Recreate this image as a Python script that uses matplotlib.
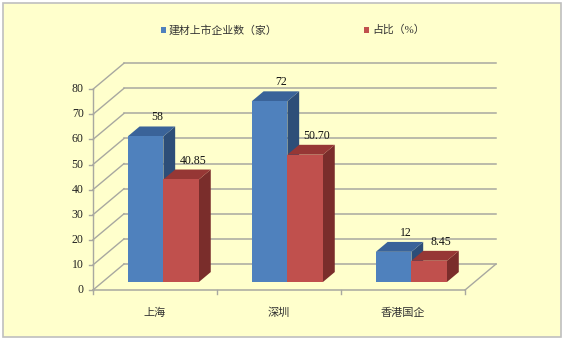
import matplotlib
matplotlib.use('Agg')
import matplotlib.pyplot as plt
from matplotlib.patches import Polygon, Rectangle

plt.rcParams['font.family'] = ['Liberation Serif', 'Noto Sans CJK SC']

# 数据
categories = ['上海', '深圳', '香港国企']
series_names = ['建材上市企业数（家）', '占比（%）']
counts = [58, 72, 12]
shares = [40.85, 50.70, 8.45]
count_labels = ['58', '72', '12']
share_labels = ['40.85', '50.70', '8.45']
yticks = [0, 10, 20, 30, 40, 50, 60, 70, 80]

# 颜色 (正面, 顶面, 侧面)
blue = ('#4F81BD', '#3A6399', '#2D4E78')
red = ('#C0504D', '#963735', '#7A2D2B')
grid_c = '#A8A8A0'
bg = '#FFFFCC'

# 3D 偏移 (数据单位)
DX, DY = 0.25, 10.36      # 背墙相对前面的偏移
F0, F1 = 0.31, 0.69       # 柱子的前后深度比例
W = 0.287                 # 柱宽

fig = plt.figure(figsize=(5.65, 3.41), dpi=100)
fig.patch.set_facecolor('white')
fig.patches.append(Rectangle((3 / 565, 4 / 341), 558 / 565, 334 / 341,
                             transform=fig.transFigure, facecolor=bg,
                             edgecolor='#BFBFBF', linewidth=1.2, zorder=-5))

ax = fig.add_axes([0, 0, 1, 1])
ax.set_zorder(1)
ax.set_facecolor('none')
ax.set_xlim(-0.75, 3.806)
ax.set_ylim(-20.32, 115.54)
ax.axis('off')

n = len(categories)

# 背墙网格线和左墙斜线
for v in yticks:
    ax.plot([DX, n + DX], [v + DY, v + DY], color=grid_c, lw=1.1, zorder=1)
    ax.plot([0, DX], [v, v + DY], color=grid_c, lw=1.0, zorder=1)
    ax.plot([-0.03, 0], [v, v], color=grid_c, lw=1.0, zorder=1)
    ax.text(-0.075, v, str(v), ha='right', va='center', fontsize=8.5, color='#222222')

# 地板
ax.plot([0, n], [0, 0], color=grid_c, lw=1.1, zorder=1)
ax.plot([n, n + DX], [0, DY], color=grid_c, lw=1.0, zorder=1)
ax.plot([0, 0], [0, 80], color=grid_c, lw=1.0, zorder=1)
for i in range(n + 1):
    ax.plot([i, i], [0, -1.5], color=grid_c, lw=1.0, zorder=1)
for i, c in enumerate(categories):
    ax.text(i + 0.5, -9, c, ha='center', va='center', fontsize=8, color='#333333')

b0 = DY * F0
ddx = DX * (F1 - F0)
ddy = DY * (F1 - F0)


def bar3d(xl, v, cols, label, z):
    front, top, side = cols
    x0 = xl + DX * F0
    ax.bar(x0, v, bottom=b0, width=W, align='edge', color=front, linewidth=0, zorder=z + 0.2)
    ax.add_patch(Polygon([(x0, v + b0), (x0 + W, v + b0), (x0 + W + ddx, v + b0 + ddy),
                          (x0 + ddx, v + b0 + ddy)], closed=True, facecolor=top,
                         linewidth=0, zorder=z + 0.1))
    ax.add_patch(Polygon([(x0 + W, b0), (x0 + W, v + b0), (x0 + W + ddx, v + b0 + ddy),
                          (x0 + W + ddx, b0 + ddy)], closed=True, facecolor=side,
                         linewidth=0, zorder=z))
    ax.text(x0 + W / 2 + ddx, v + b0 + ddy + 1.2, label, ha='center', va='bottom',
            fontsize=8.5, color='#111111', zorder=10)


for i in range(n):
    left = i + 0.49 - W
    bar3d(left, counts[i], blue, count_labels[i], 2 + i * 2)
    bar3d(left + W, shares[i], red, share_labels[i], 3 + i * 2)

# 图例
fig.patches.append(Rectangle((161 / 565, 1 - 33 / 341), 5 / 565, 6 / 341,
                             transform=fig.transFigure, facecolor=blue[0], edgecolor='none'))
fig.text(169 / 565, 1 - 30 / 341, series_names[0], ha='left', va='center',
         fontsize=7.8, color='#333333')
fig.patches.append(Rectangle((364 / 565, 1 - 33 / 341), 5 / 565, 6 / 341,
                             transform=fig.transFigure, facecolor=red[0], edgecolor='none'))
fig.text(372 / 565, 1 - 30 / 341, series_names[1], ha='left', va='center',
         fontsize=7.8, color='#333333')

fig.savefig('out.png', dpi=100, facecolor='white')
